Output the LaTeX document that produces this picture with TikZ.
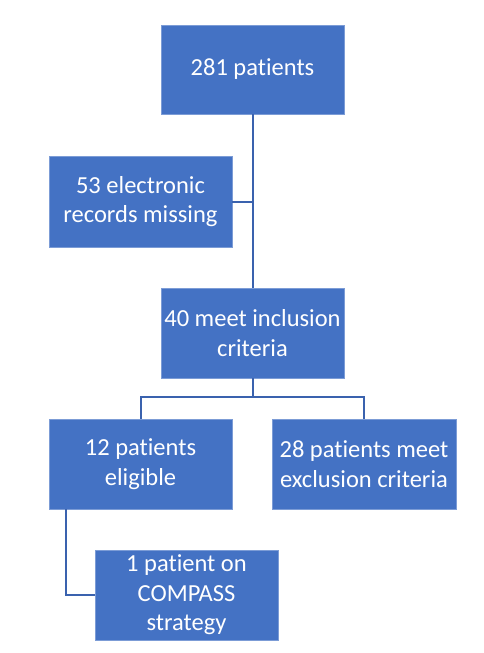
\documentclass[tikz,border=0pt]{standalone}
\usepackage{fontspec}
\setmainfont[Ligatures=NoCommon]{Carlito}
\definecolor{boxblue}{HTML}{4472C4}
\definecolor{lineblue}{HTML}{3A62AE}
\begin{document}
\begin{tikzpicture}[x=1pt,y=-1pt,
  box/.style={fill=boxblue,draw=boxblue!70!white,line width=0.8pt,text=white,align=center,font=\fontsize{24.5}{29.5}\selectfont,inner sep=0pt},
  conn/.style={draw=lineblue,line width=2pt}]
\useasboundingbox (0,0) rectangle (483,653);
\node[box,minimum width=183pt,minimum height=89pt] (a) at (252.5,69.5) {281 patients};
\node[box,minimum width=183pt,minimum height=91pt] (b) at (140.5,201.5) {53 electronic\\records missing};
\node[box,minimum width=183pt,minimum height=90pt] (c) at (252.5,333) {40 meet inclusion\\criteria};
\node[box,minimum width=183pt,minimum height=90pt] (d) at (140.5,464) {12 patients\\eligible};
\node[box,minimum width=184pt,minimum height=90pt] (e) at (364,464) {28 patients meet\\exclusion criteria};
\node[box,minimum width=183pt,minimum height=90pt] (f) at (186.5,595) {1 patient on\\COMPASS\\strategy};
\coordinate (j1) at (252.5,202);
\coordinate (j2) at (252.5,397);
\draw[conn] (a.south) -- (c.north);
\draw[conn] (b.east) -- (b.east -| j1);
\draw[conn] (c.south) -- (j2);
\draw[conn] (d.north) |- (j2) -| (e.north);
\draw[conn] (d.south -| 66,0) |- (f.west);
\end{tikzpicture}
\end{document}
